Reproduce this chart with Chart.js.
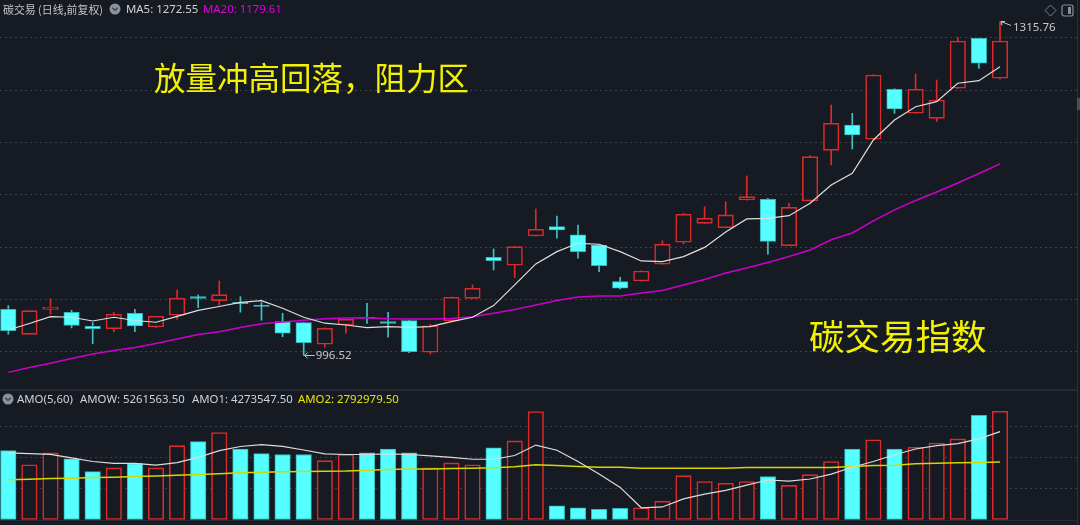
<!DOCTYPE html>
<html><head><meta charset="utf-8">
<script src="https://cdn.jsdelivr.net/npm/chart.js@4.4.1/dist/chart.umd.min.js"></script>
<style>
html,body{margin:0;padding:0;background:#161a22;width:1080px;height:525px;overflow:hidden;}
#wrap{position:relative;width:1080px;height:525px;background:#161a22;font-family:"Noto Sans","Noto Sans CJK SC",sans-serif;}
canvas{position:absolute;left:0;}
.lg{position:absolute;font-size:11.4px;white-space:nowrap;line-height:14px;}
.big{position:absolute;font-family:"Noto Sans CJK SC",sans-serif;color:#f2f200;white-space:nowrap;line-height:1;}
.hr{position:absolute;left:0;width:1078px;background:#262b34;}
</style></head>
<body><div id="wrap">
<canvas id="main" width="1077" height="389" style="top:0"></canvas>
<canvas id="vol" width="1077" height="129" style="top:391px"></canvas>
<div class="hr" style="top:389px;height:2px"></div>
<div class="hr" style="top:520px;height:1px"></div>
<div style="position:absolute;left:1077px;top:0;width:1px;height:525px;background:#2a2f38"></div>
<div style="position:absolute;left:1077px;top:98px;width:3px;height:12px;background:#4a4f58"></div>

<div class="lg" style="left:3px;top:2px;color:#c2c2c2;font-size:10.9px;font-family:'Noto Sans CJK SC',sans-serif;">碳交易 (日线,前复权)</div>
<svg style="position:absolute;left:109px;top:3px" width="12" height="12"><circle cx="6" cy="6" r="5.5" fill="#8d9199"/><path d="M3.3 4.8 L6 7.4 L8.7 4.8" stroke="#3a3e46" stroke-width="1.4" fill="none"/></svg>
<div class="lg" style="left:126px;top:2px;color:#d2d2d2">MA5: 1272.55</div>
<div class="lg" style="left:203px;top:2px;color:#e000e0">MA20: 1179.61</div>
<svg style="position:absolute;left:1044px;top:4px" width="13" height="13"><path d="M6.5 1 L12 6.5 L6.5 12 L1 6.5 Z" stroke="#7a7f88" stroke-width="1" fill="none"/></svg>
<svg style="position:absolute;left:1061px;top:4px" width="13" height="13"><rect x="1" y="1" width="11" height="11" rx="2" stroke="#8a8f98" stroke-width="1.2" fill="none"/><rect x="7" y="3" width="3" height="7" fill="#8a8f98"/></svg>

<div class="big" style="left:154px;top:61px;font-size:31.5px">放量冲高回落，阻力区</div>
<div class="big" style="left:809px;top:317px;font-size:35.5px">碳交易指数</div>

<svg style="position:absolute;left:2px;top:393px" width="12" height="12"><circle cx="6" cy="6" r="5.5" fill="#8d9199"/><path d="M3.3 4.8 L6 7.4 L8.7 4.8" stroke="#3a3e46" stroke-width="1.4" fill="none"/></svg>
<div class="lg" style="left:17px;top:392px;color:#d2d2d2">AMO(5,60)</div>
<div class="lg" style="left:80px;top:392px;color:#d2d2d2">AMOW: 5261563.50</div>
<div class="lg" style="left:192px;top:392px;color:#d2d2d2">AMO1: 4273547.50</div>
<div class="lg" style="left:298px;top:392px;color:#e6e600">AMO2: 2792979.50</div>
</div>
<script>
// ---- data ----
const categories = Array.from({length:48},(_,i)=>i);
const open  = [1040.6,1016.7,1040.6,1037.8,1024.4,1022.1,1036.8,1023.7,1034.9,1052.7,1048.9,1047.3,1044.3,1028.8,1027.8,1007.2,1025.6,1033.0,1028.8,1029.7,999.5,1029.4,1051.1,1090.3,1082.7,1110.7,1119.6,1111.7,1102.1,1067.0,1067.7,1083.7,1104.7,1122.8,1118.6,1145.1,1145.8,1101.4,1144.2,1192.6,1216.8,1203.2,1251.0,1228.0,1223.2,1251.9,1299.7,1261.5];
const close = [1020.2,1039.3,1042.8,1025.3,1022.1,1035.9,1024.7,1033.9,1051.1,1051.1,1054.6,1046.0,1043.3,1017.7,1008.7,1022.5,1031.1,1032.0,1027.2,1000.1,1024.9,1052.1,1060.7,1087.1,1100.5,1117.1,1116.4,1095.7,1082.3,1060.7,1077.2,1102.8,1131.5,1127.6,1130.8,1148.3,1105.6,1138.1,1186.5,1218.5,1207.3,1264.6,1232.1,1251.0,1240.7,1297.1,1275.8,1297.1];
const high  = [1044.1,1039.5,1050.5,1039.7,1027.8,1037.8,1040.6,1034.2,1059.1,1054.3,1067.7,1052.7,1047.0,1036.8,1028.2,1022.9,1031.5,1046.4,1037.8,1030.0,1026.3,1052.4,1063.9,1098.3,1100.8,1136.5,1129.8,1121.2,1102.5,1071.2,1077.5,1106.2,1132.4,1138.7,1143.5,1168.1,1146.8,1142.0,1187.5,1235.9,1228.0,1265.0,1251.5,1265.6,1259.8,1300.7,1300.0,1315.76];
const low   = [1016.7,1016.5,1035.9,1022.8,1007.7,1019.2,1019.2,1023.0,1031.1,1042.2,1044.7,1037.8,1030.1,1014.4,996.52,1004.3,1017.7,1027.2,1013.9,999.1,997.8,1029.2,1050.8,1078.2,1070.8,1110.5,1108.5,1089.4,1076.6,1060.0,1067.5,1083.5,1103.1,1122.6,1118.4,1144.9,1093.2,1101.2,1144.0,1178.6,1193.9,1203.0,1228.0,1227.8,1220.0,1251.5,1271.0,1260.5];
const ma5   = [1020.8,1027,1033.5,1033,1029.4,1033,1029.9,1028.2,1033.8,1039.6,1043.3,1047.2,1048.9,1041.6,1033,1027.3,1025.6,1023,1024,1023.4,1024,1028.8,1033,1044.1,1063.9,1084,1095.7,1103.7,1102.8,1095.7,1086.8,1086.1,1091,1099.8,1114.4,1127,1127.6,1130.1,1142,1159.5,1170.7,1202.5,1221.6,1234.3,1239.1,1256.7,1259.2,1272.55];
const ma20  = [980.3,985,989,993.6,997.9,1001.1,1004.1,1008,1012.2,1016.6,1019.2,1023.1,1026.8,1028.5,1030.2,1031.6,1032.3,1032.5,1031.6,1031.4,1031.4,1031.7,1033.5,1036.8,1040.5,1044.7,1049,1052.4,1053.3,1053.3,1056.2,1058.6,1063.9,1069.1,1075.3,1080.1,1085.4,1091.1,1097.3,1107.1,1113.6,1125.1,1135.6,1144.6,1152.8,1161.4,1170.4,1179.61];
const amount = [3350000,2660000,3240000,2950000,2330000,2510000,2720000,2510000,3590000,3790000,4230000,3430000,3200000,3160000,3160000,2860000,3160000,3240000,3430000,3240000,2510000,2750000,2660000,3480000,3820000,5250000,670000,570000,490000,540000,570000,890000,2130000,1850000,1760000,1850000,2090000,1660000,2180000,2820000,3430000,3880000,3430000,3510000,3720000,3920000,5060000,5261563.5];
const amo1 = [3240000,3200000,3170000,3000000,2820000,2730000,2730000,2640000,2770000,3020000,3350000,3550000,3640000,3560000,3380000,3190000,3160000,3160000,3190000,3160000,3090000,3020000,2930000,2930000,3110000,3620000,3370000,2820000,2210000,1560000,570000,610000,1000000,1230000,1420000,1670000,1920000,1870000,1970000,2210000,2540000,2820000,3150000,3430000,3590000,3690000,3920000,4273547.5];
const amo2 = [1930000,1960000,1990000,2010000,2040000,2060000,2090000,2120000,2150000,2190000,2230000,2270000,2300000,2320000,2330000,2350000,2360000,2400000,2430000,2450000,2460000,2480000,2490000,2520000,2560000,2660000,2630000,2580000,2540000,2540000,2490000,2490000,2490000,2490000,2490000,2530000,2530000,2530000,2530000,2530000,2580000,2630000,2640000,2710000,2740000,2760000,2770000,2792979.5];
const priceTicks = [1000,1050,1100,1150,1200,1250,1300];
const amountTicks = [1500000,3000000,4500000];

// ---- styling ----
const BG='#161a22', RED='#dc2a2a', CYAN='#55ffff', CYANB='#35b8b8', GRID='#3a404a';
const isUp = i => close[i] >= open[i];
const XMIN = -0.393, XMAX = -0.393 + 1077/21.1;

const pts = arr => categories.map(i=>({x:i,y:arr[i]}));

const extremes = {
  id:'extremes',
  afterDatasetsDraw(chart){
    const {ctx, scales:{x,y}} = chart;
    const hv = Math.max(...high), lv = Math.min(...low);
    const iHi = high.indexOf(hv), iLo = low.indexOf(lv);
    ctx.save();
    ctx.font = '11.5px "Noto Sans", sans-serif';
    ctx.fillStyle = '#c8c8c8'; ctx.strokeStyle = '#c8c8c8'; ctx.lineWidth = 1;
    ctx.textBaseline = 'middle';
    let px = x.getPixelForValue(iLo), py = Math.round(y.getPixelForValue(lv)) + 0.5;
    ctx.beginPath();
    ctx.moveTo(px+1,py); ctx.lineTo(px+11,py);
    ctx.moveTo(px+1,py); ctx.lineTo(px+4,py-3);
    ctx.moveTo(px+1,py); ctx.lineTo(px+4,py+3);
    ctx.stroke();
    ctx.fillText(lv.toFixed(2), px+12, py+0.5);
    px = x.getPixelForValue(iHi); py = y.getPixelForValue(hv);
    ctx.beginPath();
    ctx.moveTo(px+1,py); ctx.lineTo(px+11,py+4);
    ctx.moveTo(px+1,py); ctx.lineTo(px+5,py);
    ctx.moveTo(px+1,py); ctx.lineTo(px+2,py+4);
    ctx.stroke();
    ctx.fillText(hv.toFixed(2), px+13, py+6);
    ctx.restore();
  }
};

const commonX = {type:'linear', min:XMIN, max:XMAX, display:false, offset:false};
const zeroWidth = s => { s.width = 0; };

new Chart(document.getElementById('main'), {
  type:'bar',
  data:{datasets:[
    {type:'line', data:pts(ma5), borderColor:'#dedede', borderWidth:1.2, pointRadius:0, tension:0, order:0},
    {type:'line', data:pts(ma20), borderColor:'#cc00cc', borderWidth:1.5, pointRadius:0, tension:0, order:0},
    {type:'bar', data:categories.map(i=>({x:i,y:[open[i],close[i]]})), grouped:false, barThickness:15.5,
      backgroundColor:categories.map(i=>isUp(i)?BG:CYAN),
      borderColor:categories.map(i=>isUp(i)?RED:CYANB),
      borderWidth:categories.map(i=>isUp(i)?1.6:1), borderSkipped:false, order:1},
    {type:'bar', data:categories.map(i=>({x:i,y:[low[i],high[i]]})), grouped:false, barThickness:1,
      backgroundColor:categories.map(i=>isUp(i)?RED:'#3fc4c4'), borderWidth:0, order:2}
  ]},
  options:{
    responsive:false, animation:false, devicePixelRatio:1,
    layout:{padding:0},
    plugins:{legend:{display:false}, tooltip:{enabled:false}},
    scales:{
      x:commonX,
      y:{type:'linear', position:'right', min:964.4, max:1336.3,
        afterBuildTicks:s=>{ s.ticks = priceTicks.map(v=>({value:v})); },
        ticks:{display:false}, grid:{color:GRID, drawTicks:false, lineWidth:1},
        border:{display:false, dash:[2,3]}, afterFit:zeroWidth}
    }
  },
  plugins:[extremes]
});

new Chart(document.getElementById('vol'), {
  type:'bar',
  data:{datasets:[
    {type:'line', data:pts(amo1), borderColor:'#dcdcdc', borderWidth:1.2, pointRadius:0, tension:0, order:0},
    {type:'line', data:pts(amo2), borderColor:'#d6d600', borderWidth:1.5, pointRadius:0, tension:0, order:0},
    {type:'bar', data:categories.map(i=>({x:i,y:amount[i]})), grouped:false, barThickness:15.5,
      backgroundColor:categories.map(i=>isUp(i)?BG:CYAN),
      borderColor:categories.map(i=>isUp(i)?RED:CYANB),
      borderWidth:categories.map(i=>isUp(i)?1.6:1), borderSkipped:false, order:1}
  ]},
  options:{
    responsive:false, animation:false, devicePixelRatio:1,
    layout:{padding:0},
    plugins:{legend:{display:false}, tooltip:{enabled:false}},
    scales:{
      x:commonX,
      y:{type:'linear', position:'right', min:-24314, max:6249000,
        afterBuildTicks:s=>{ s.ticks = amountTicks.map(v=>({value:v})); },
        ticks:{display:false}, grid:{color:GRID, drawTicks:false, lineWidth:1},
        border:{display:false, dash:[2,3]}, afterFit:zeroWidth}
    }
  }
});
</script>
</body></html>
